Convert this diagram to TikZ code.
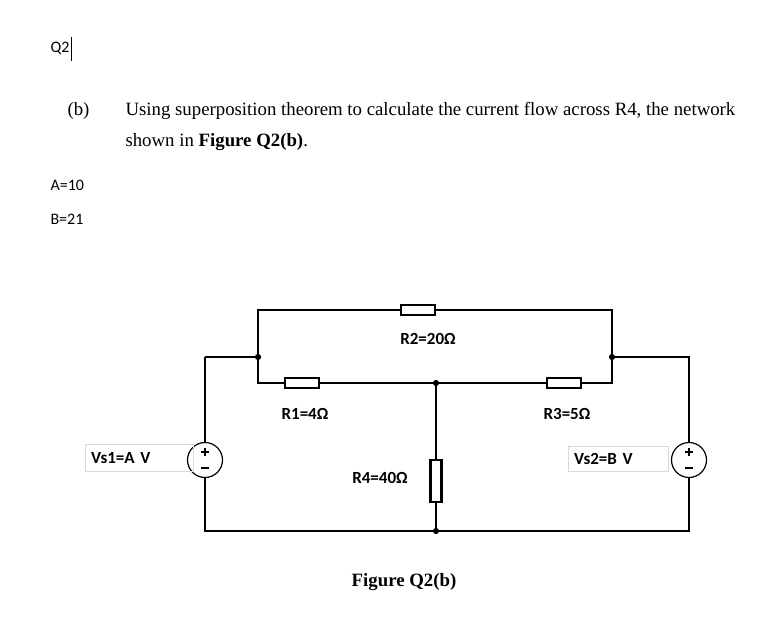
\documentclass[tikz,border=0pt]{standalone}
\usepackage{fontspec}
\setmainfont{Liberation Serif}
\newfontfamily\calib{Carlito}
\begin{document}
\begin{tikzpicture}[x=1pt,y=-1pt,
  wire/.style={line width=2.2pt},
  res/.style={draw,line width=2.4pt,fill=white,minimum width=34pt,minimum height=10pt,inner sep=0pt},
  vres/.style={draw,line width=2.4pt,fill=white,minimum width=11pt,minimum height=42pt,inner sep=0pt},
  src/.style={draw,circle,line width=1.2pt,minimum size=35pt,inner sep=0pt,fill=white},
  lbl/.style={font=\calib\bfseries\fontsize{17}{19}\selectfont},
  dotj/.style={circle,fill,inner sep=2.2pt}]
\useasboundingbox (0,0) rectangle (779,619);
\node[font=\calib\fontsize{16}{18}\selectfont,anchor=west] (q) at (47,48) {Q2};
\draw[line width=0.8pt] (71,37) coordinate (c1) -- (71,61) coordinate (c2);
\node[font=\fontsize{18.8}{21}\selectfont,anchor=west] (b) at (64,111) {(b)};
\node[font=\fontsize{18.8}{21}\selectfont,anchor=west] (t1) at (122,111) {Using superposition theorem to calculate the current flow across R4, the network};
\node[font=\fontsize{18.8}{21}\selectfont,anchor=west] (t2) at (122,142) {shown in \textbf{Figure Q2(b)}.};
\node[font=\calib\fontsize{16}{18}\selectfont,anchor=west] (a) at (47,185) {A=10};
\node[font=\calib\fontsize{16}{18}\selectfont,anchor=west] (bb) at (47,219) {B=21};
\coordinate (tl) at (258,310); \coordinate (tr) at (612,310);
\node[dotj] (jl) at (258,357) {}; \node[dotj] (jr) at (612,357) {};
\coordinate (ml) at (258,383); \coordinate (mr) at (612,383);
\node[dotj] (jm) at (436,383) {};
\node[dotj] (jb) at (436,531) {};
\coordinate (bl) at (205,531); \coordinate (br) at (689,531);
\coordinate (sl) at (205,357); \coordinate (sr) at (689,357);
\draw[wire] (sl) -- (jl) (jl) -- (tl) -- (tr) -- (jr) (jl) -- (ml) -- (mr) -- (jr) (jr) -- (sr) -- (br) -- (bl) -- (sl) (jm) -- (jb);
\node[res] (r2) at (418,310) {};
\node[res] (r1) at (302,383) {};
\node[res] (r3) at (564,383) {};
\node[vres] (r4) at (436,481) {};
\node[src] (v1) at (205,460) {};
\node[src] (v2) at (689,460) {};
\foreach \v in {v1,v2}{
 \draw[line width=1.3pt] (\v.center) ++(-4,-8) -- ++(8,0) ++(-4,-4) -- ++(0,8);
 \draw[line width=1.3pt] (\v.center) ++(-4,8) -- ++(8,0);}
\node[lbl] (l2) at (428,339) {R2=20Ω};
\node[lbl] (l1) at (305,414) {R1=4Ω};
\node[lbl] (l3) at (567,414) {R3=5Ω};
\node[lbl] (l4) at (380,478) {R4=40Ω};
\node[lbl,draw=black!15,minimum width=108pt,minimum height=27pt,anchor=west,text width=96pt] (s1) at (85,458) {Vs1=A V};
\node[lbl,draw=black!15,minimum width=100pt,minimum height=25pt,anchor=west,text width=88pt] (s2) at (568,459) {Vs2=B V};
\node[font=\bfseries\fontsize{18.8}{21}\selectfont] (fig) at (404,582) {Figure Q2(b)};
\end{tikzpicture}
\end{document}
